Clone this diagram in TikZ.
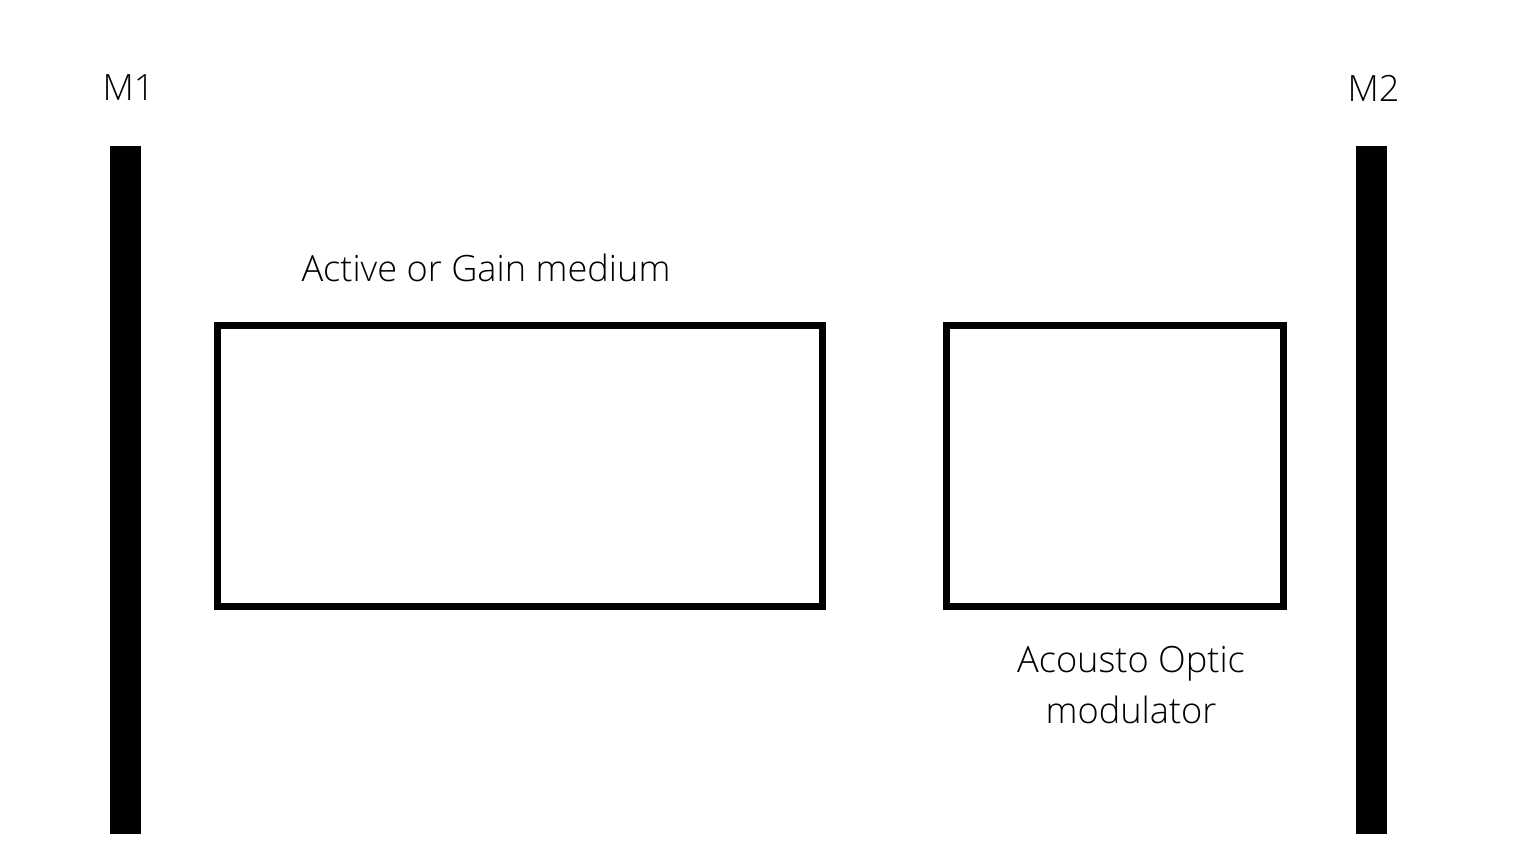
\documentclass[tikz,border=0pt]{standalone}
\usepackage{fontspec}
\setmainfont{Open Sans Light}
\usetikzlibrary{calc}

\tikzset{
  mirror/.style={fill=black},
  optic/.style={draw, line width=0.07cm},
  lbl/.style={font=\fontsize{10.3pt}{14.5pt}\selectfont, inner sep=0pt, align=center}
}

\begin{document}
\begin{tikzpicture}[scale=1]

\useasboundingbox (0,0) rectangle (15.36,8.64);

% mirrors
\fill[mirror] (1.10,0.30) rectangle (1.41,7.18);
\fill[mirror] (13.56,0.30) rectangle (13.87,7.18);

 \node[lbl] (m1) at (1.285,7.76) {M1};
 \node[lbl] (m2) at (13.735,7.76) {M2};

% gain medium
\draw[optic] (2.175,2.575) rectangle (8.225,5.385);
 \node[lbl] (gain) at (4.86,5.96) {Active or Gain medium};

% modulator
\draw[optic] (9.465,2.575) rectangle (12.835,5.385);
 \node[lbl] (aom) at (11.31,1.785) {Acousto Optic\\modulator};

\end{tikzpicture}
\end{document}
